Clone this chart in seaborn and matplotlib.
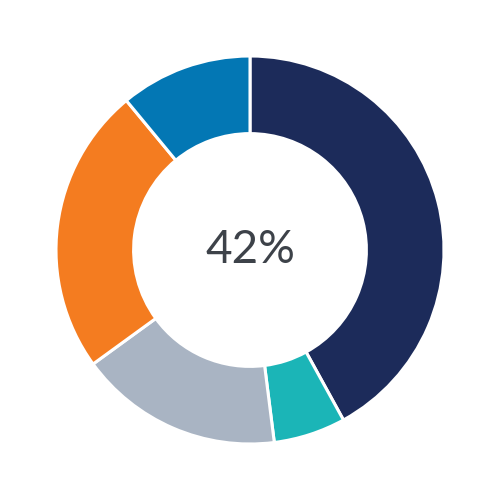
import matplotlib
matplotlib.use("Agg")
import matplotlib.pyplot as plt
import seaborn as sns

# ==============================
# Data
# ==============================
labels = ["Navy", "Teal", "Gray", "Orange", "Blue"]
shares = [42, 6, 17, 24, 11]
colors = ["#1c2b5a", "#1bb5b7", "#a9b4c3", "#f47c20", "#0377b4"]
center_label = "42%"

# ==============================
# Plot
# ==============================
sns.set_theme(style="white")
plt.rcParams["font.family"] = ["Lato", "DejaVu Sans"]

fig = plt.figure(figsize=(5, 5), dpi=100)
ax = fig.add_axes([0, 0, 1, 1])

ax.pie(
    shares,
    colors=sns.color_palette(colors),
    startangle=90,
    counterclock=False,
    radius=1.0,
    wedgeprops=dict(width=0.4, edgecolor="white", linewidth=2.2),
)

ax.text(0, 0.0, center_label, ha="center", va="center",
        fontsize=33, fontweight="normal", color="#3d4249")

lim = 250 / 194
ax.set_xlim(-lim, lim)
ax.set_ylim(-lim, lim)
ax.set_aspect("equal")
ax.axis("off")

fig.savefig("out.png", dpi=100, facecolor="white")
